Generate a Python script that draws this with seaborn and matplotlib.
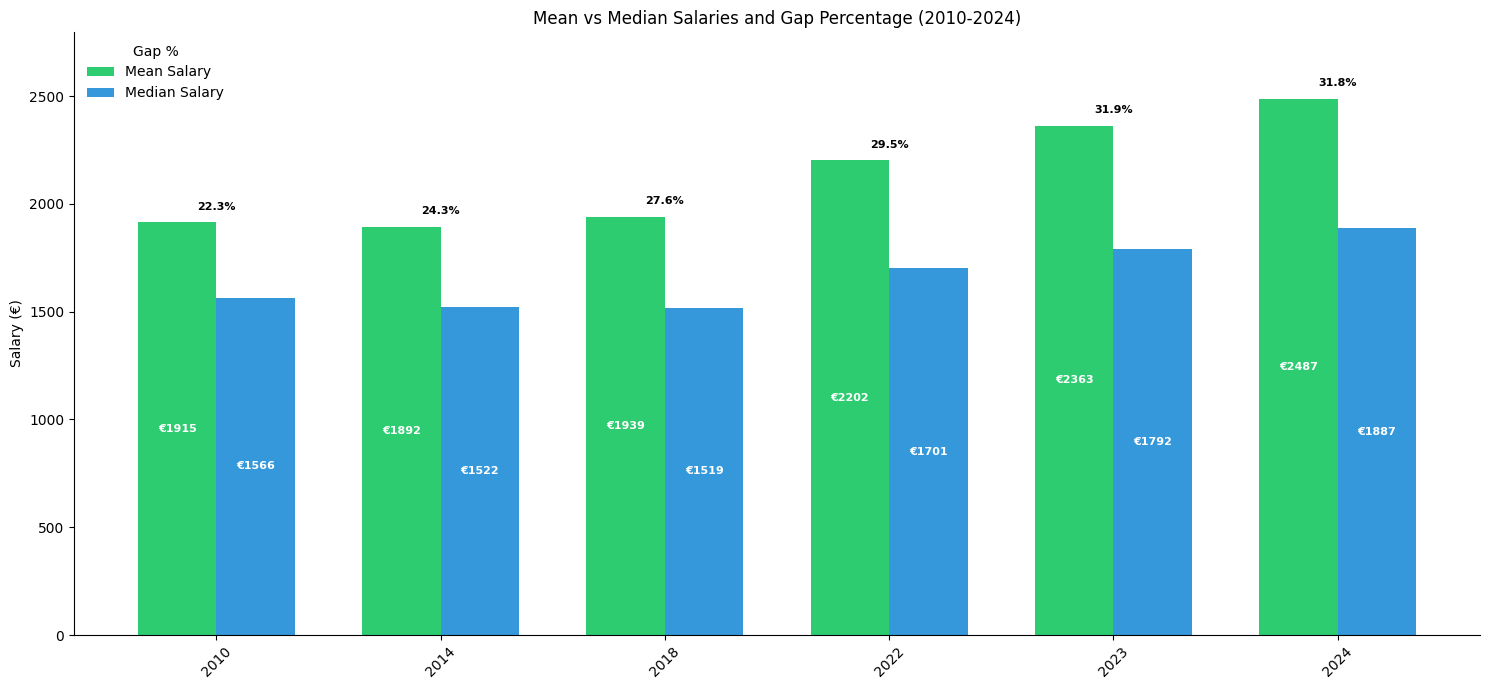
import numpy as np
import pandas as pd
import matplotlib
matplotlib.use("Agg")
import matplotlib.pyplot as plt
import seaborn as sns

years = ["2010", "2014", "2018", "2022", "2023", "2024"]
mean_salary = [1915, 1892, 1939, 2202, 2363, 2487]
median_salary = [1566, 1522, 1519, 1701, 1792, 1887]
gap_pct = [22.3, 24.3, 27.6, 29.5, 31.9, 31.8]

df = pd.DataFrame({
    "Year": years * 2,
    "Salary": mean_salary + median_salary,
    "Type": ["Mean Salary"] * len(years) + ["Median Salary"] * len(years),
})

plt.rcParams['font.family'] = ['DejaVu Sans']

fig, ax = plt.subplots(figsize=(14.89, 6.9), dpi=100)
sns.barplot(data=df, x="Year", y="Salary", hue="Type",
            palette=["#2ecc71", "#3498db"], width=0.7, saturation=1,
            errorbar=None, linewidth=0, ax=ax)

# value labels inside the bars
for cont in ax.containers:
    for bar in cont:
        h = bar.get_height()
        ax.text(bar.get_x() + bar.get_width() / 2, h / 2, f"€{h:.0f}",
                ha="center", va="center", color="white",
                fontsize=8, fontweight="bold")

# gap percentage above each group
for i, (m, g) in enumerate(zip(mean_salary, gap_pct)):
    ax.text(i, m + 50, f"{g:.1f}%", ha="center", va="bottom",
            fontsize=8, fontweight="bold", color="black")

n = len(years)
ax.set_xlim(-0.35 - 0.05 * (n - 0.3), n - 1 + 0.35 + 0.05 * (n - 0.3))
ax.set_ylim(0, max(mean_salary) * 1.125)
ax.set_title("Mean vs Median Salaries and Gap Percentage (2010-2024)")
ax.set_xlabel("")
ax.set_ylabel("Salary (€)")
plt.xticks(rotation=45)
ax.legend(title="Gap %", frameon=False, loc="upper left")
sns.despine()

fig.subplots_adjust(left=0.0497, right=0.994, top=0.9536, bottom=0.0797)
plt.savefig("out.png", dpi=100)
